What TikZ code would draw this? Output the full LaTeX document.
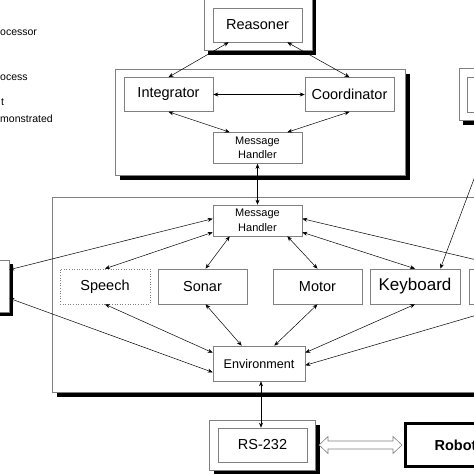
\documentclass[tikz,border=0pt]{standalone}
\usepackage{fontspec}
\setmainfont{Liberation Sans}
\usetikzlibrary{arrows.meta}

\tikzset{
  box/.style={draw=gray, line width=0.6pt, fill=white, minimum width=89pt, minimum height=34pt, inner sep=0pt, font=\fontsize{14.5}{16}\selectfont},
  msgbox/.style={box, minimum height=31pt, align=center, font=\fontsize{11}{14.5}\selectfont},
  frame/.style={draw=gray, line width=0.6pt, fill=white},
  shadow/.style={fill=black},
  link/.style={<->, >={Stealth[length=5pt,width=4pt]}, line width=0.5pt},
  legend/.style={anchor=west, inner sep=0pt, font=\fontsize{10.5}{12}\selectfont},
}

\begin{document}
\begin{tikzpicture}[x=1pt,y=-1pt]
\useasboundingbox (0,0) rectangle (474,474);
\clip (0,0) rectangle (474,474);

% legend
\node[legend] (lgA) at (0,33) {ocessor};
\node[legend] (lgB) at (0,78) {ocess};
\node[legend] (lgC) at (1,102) {t};
\node[legend] (lgD) at (0,119) {monstrated};

% frames with shadows
\fill[shadow] (208,-20) rectangle (316,55);
\draw[frame] (204,-20) rectangle (312,50);
\fill[shadow] (120,74) rectangle (410,180);
\draw[frame] (115,69) rectangle (405,175);
\fill[shadow] (463,73) rectangle (574,125);
\draw[frame] (459,68) rectangle (570,120);
\fill[shadow] (57,202) rectangle (505,397);
\draw[frame] (52,197) rectangle (500,392);
\fill[shadow] (-45,264) rectangle (13,316);
\fill[shadow] (214,425) rectangle (320,474);
\draw[frame] (209,420) rectangle (315,470);

% nodes
\node[box] (reasoner) at (257.5,25) {Reasoner};
\node[box] (integrator) at (168.5,94.5) {Integrator};
\node[box] (coordinator) at (349.5,94.5) {Coordinator};
\node[msgbox] (mhup) at (257.5,148) {Message\\Handler};
\node[box, minimum width=94pt, minimum height=35pt] (trin) at (514,94.5) {};
\node[msgbox] (mhlow) at (257.5,220.5) {Message\\Handler};
\node[box, minimum width=58pt, minimum height=52pt] (lbox) at (-20,286) {};
\node[box, dotted, minimum width=90pt, minimum height=35pt] (speech) at (105,286.5) {Speech};
\node[box, minimum height=35pt] (sonar) at (202.5,286.5) {Sonar};
\node[box, minimum height=35pt] (motor) at (317.5,286.5) {Motor};
\node[box, minimum width=90pt, minimum height=35pt, font=\fontsize{17}{19}\selectfont] (keyboard) at (415,286.5) {Keyboard};
\node[box, minimum height=35pt] (rbox) at (513.5,286.5) {};
\node[box, minimum width=92pt, minimum height=35pt, font=\fontsize{12.6}{14}\selectfont] (env) at (259,363.5) {Environment};
\node[box] (rs) at (262.5,445) {RS-232};
\node[box, draw=black, line width=3pt, minimum width=100pt, minimum height=43pt, font=\fontsize{14.5}{16}\selectfont\bfseries] (robot) at (455.5,445) {Robot};

% links
\draw[link] ([xshift=16pt]reasoner.south west) -- (integrator.north);
\draw[link] ([xshift=-15pt]reasoner.south east) -- (coordinator.north);
\draw[link] (integrator.east) -- (coordinator.west);
\draw[link] (integrator.south) -- ([xshift=17pt]mhup.north west);
\draw[link] (coordinator.south) -- ([xshift=-15pt]mhup.north east);
\draw[link] (mhup.south) -- (mhlow.north);
\draw[link] ([yshift=4pt]mhlow.south west) -- (speech.north);
\draw[link] ([xshift=17pt]mhlow.south west) -- ([xshift=3pt]sonar.north);
\draw[link] ([xshift=-15pt]mhlow.south east) -- (motor.north);
\draw[link] ([yshift=4pt]mhlow.south east) -- (keyboard.north);
\draw[link] ([yshift=-10pt]lbox.north east) -- ([yshift=-14pt]mhlow.north west);
\draw[link] (rbox.north) -- ([yshift=-14pt]mhlow.north east);
\draw[link] ([xshift=-15pt]trin.south) -- ([xshift=-20pt]keyboard.north east);
\draw[link] (speech.south) -- ([yshift=-7pt]env.north west);
\draw[link] ([xshift=3pt]sonar.south) -- ([xshift=29pt]env.north west);
\draw[link] (motor.south) -- ([xshift=-31pt]env.north east);
\draw[link] (keyboard.south) -- ([yshift=-7pt]env.north east);
\draw[link] (rbox.south) -- ([yshift=16pt]env.south east);
\draw[link] ([yshift=14pt]lbox.south east) -- ([yshift=9pt]env.south west);
\draw[link] ([xshift=2pt]env.south) -- ([xshift=2pt]env.south |- rs.north);

% hollow double arrow
\draw[frame] ([xshift=-85pt]robot.west) -- ++(9,-8.5) -- ++(0,4.5) -- ++(65,0) -- ++(0,-4.5) -- ++(9,8.5) -- ++(-9,8.5) -- ++(0,-4.5) -- ++(-65,0) -- ++(0,4.5) -- cycle;
\end{tikzpicture}
\end{document}
